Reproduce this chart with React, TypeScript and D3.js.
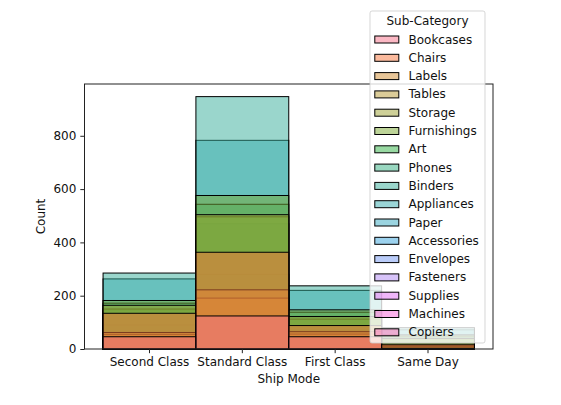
import { useEffect, useRef } from 'react'
import * as d3 from 'd3'

const shipModes = ['Second Class', 'Standard Class', 'First Class', 'Same Day']
const subCategories = [
  'Bookcases', 'Chairs', 'Labels', 'Tables', 'Storage', 'Furnishings', 'Art', 'Phones', 'Binders',
  'Appliances', 'Paper', 'Accessories', 'Envelopes', 'Fasteners', 'Supplies', 'Machines', 'Copiers',
]
// counts per sub-category (same order as subCategories), one array per ship mode
const secondClass = [46, 134, 62, 55, 164, 182, 150, 172, 285, 90, 263, 145, 48, 40, 35, 22, 12]
const standardClass = [124, 363, 222, 191, 504, 576, 496, 543, 947, 280, 783, 470, 150, 130, 110, 70, 40]
const firstClass = [46, 88, 65, 56, 122, 147, 112, 138, 237, 70, 220, 118, 40, 33, 29, 18, 10]
const sameDay = [3, 18, 12, 10, 40, 53, 38, 48, 80, 22, 72, 36, 12, 10, 9, 6, 4]
const countsByMode = [secondClass, standardClass, firstClass, sameDay]
const yTicks = [0, 200, 400, 600, 800]

// seaborn's husl palette
const M = [[3.2406, -1.5372, -0.4986], [-0.9689, 1.8758, 0.0415], [0.0557, -0.204, 1.057]]
const maxChroma = (L: number, H: number) => {
  const hr = (H * Math.PI) / 180
  const sinH = Math.sin(hr), cosH = Math.cos(hr)
  const sub1 = Math.pow(L + 16, 3) / 1560896
  const sub2 = sub1 > 0.008856 ? sub1 : L / 903.3
  let res = Infinity
  for (const [m1, m2, m3] of M) {
    const top = (0.99915 * m1 + 1.05122 * m2 + 1.1446 * m3) * sub2
    const rb = 0.8633 * m3 - 0.17266 * m2
    const lb = 0.12949 * m3 - 0.38848 * m1
    const bottom = (rb * sinH + lb * cosH) * sub2
    for (const t of [0, 1]) {
      const C = (L * (top - 1.05122 * t)) / (bottom + 0.17266 * sinH * t)
      if (C > 0 && C < res) res = C
    }
  }
  return res
}
const huslToHex = (h: number, s: number, l: number) => {
  const C = (maxChroma(l, h) / 100) * s
  const hr = (h * Math.PI) / 180
  const U = Math.cos(hr) * C, V = Math.sin(hr) * C
  const t = (l + 16) / 116
  const Y = t ** 3 > 0.008856 ? t ** 3 : (116 * t - 16) / 903.3
  const vu = U / (13 * l) + 0.19784
  const vv = V / (13 * l) + 0.46834
  const X = -(9 * Y * vu) / ((vu - 4) * vv - vu * vv)
  const Z = (9 * Y - 15 * vv * Y - vv * X) / (3 * vv)
  const rgb = M.map(r => {
    const c = r[0] * X + r[1] * Y + r[2] * Z
    const v = c <= 0.0031308 ? 12.92 * c : 1.055 * Math.pow(c, 1 / 2.4) - 0.055
    return Math.max(0, Math.min(1, v)) * 255
  })
  return d3.rgb(rgb[0], rgb[1], rgb[2]).formatHex()
}
const palette = subCategories.map((_, i) => huslToHex(((i / subCategories.length + 0.01) % 1) * 359, 0.9 * 99, 0.65 * 99))

const FONT = 'DejaVu Sans, sans-serif'

const Chart = () => {
  const ref = useRef<SVGSVGElement | null>(null)
  useEffect(() => {
    const el = ref.current
    if (!el) return
    const width = 561, height = 405
    const box = { left: 84.5, right: 493, top: 84, bottom: 349 }
    const svg = d3.select(el).attr('viewBox', `0 0 ${width} ${height}`)
    svg.append('rect').attr('width', width).attr('height', height).attr('fill', '#fff')

    const x = d3.scaleBand<string>().domain(shipModes).range([box.left, box.right]).paddingInner(0).paddingOuter(0.2)
    const maxCount = d3.max(countsByMode, (a: number[]) => d3.max(a)) as number
    const y = d3.scaleLinear().domain([0, maxCount * 1.05]).range([box.bottom, box.top])

    // layered bars, first hue on top
    const bars = svg.append('g')
    for (let k = subCategories.length - 1; k >= 0; k--) {
      bars.append('g').selectAll('rect').data(shipModes).join('rect')
        .attr('x', (d: string) => x(d) as number)
        .attr('width', x.bandwidth())
        .attr('y', (_: string, j: number) => y(countsByMode[j][k]))
        .attr('height', (_: string, j: number) => y(0) - y(countsByMode[j][k]))
        .attr('fill', palette[k]).attr('fill-opacity', 0.5)
        .attr('stroke', '#000').attr('stroke-width', 1)
    }

    const yAxis = svg.append('g').attr('transform', `translate(${box.left},0)`)
      .call(d3.axisLeft(y).tickValues(yTicks).tickSize(4.2).tickPadding(4))
    const xAxis = svg.append('g').attr('transform', `translate(0,${box.bottom})`)
      .call(d3.axisBottom(x).tickSize(4.2).tickPadding(4))
    for (const ax of [xAxis, yAxis]) {
      ax.select('.domain').remove()
      ax.selectAll('line').attr('stroke', '#222').attr('stroke-width', 1)
      ax.selectAll('text').attr('fill', '#111').style('font-family', FONT).style('font-size', '12px')
    }
    svg.append('rect').attr('x', box.left).attr('y', box.top)
      .attr('width', box.right - box.left).attr('height', box.bottom - box.top)
      .attr('fill', 'none').attr('stroke', '#222').attr('stroke-width', 1)

    svg.append('text').attr('x', (box.left + box.right) / 2).attr('y', 383)
      .attr('text-anchor', 'middle').style('font-family', FONT).style('font-size', '12px').attr('fill', '#111')
      .text('Ship Mode')
    svg.append('text').attr('transform', `translate(45,${(box.top + box.bottom) / 2}) rotate(-90)`)
      .attr('text-anchor', 'middle').style('font-family', FONT).style('font-size', '12px').attr('fill', '#111')
      .text('Count')

    // legend
    const lg = svg.append('g')
    lg.append('rect').attr('x', 370).attr('y', 11).attr('width', 115).attr('height', 332).attr('rx', 2)
      .attr('fill', '#fff').attr('fill-opacity', 0.8).attr('stroke', '#ccc').attr('stroke-opacity', 0.8)
    lg.append('text').attr('x', 427.5).attr('y', 25).attr('text-anchor', 'middle')
      .style('font-family', FONT).style('font-size', '12px').attr('fill', '#111').text('Sub-Category')
    const items = lg.selectAll('g.item').data(subCategories).join('g')
      .attr('transform', (_: string, i: number) => `translate(0,${43.5 + 18.3 * i})`)
    items.append('rect').attr('x', 374.8).attr('y', -7.5).attr('width', 24).attr('height', 7)
      .attr('fill', (_: string, i: number) => palette[i]).attr('fill-opacity', 0.5)
      .attr('stroke', '#000').attr('stroke-width', 1)
    items.append('text').attr('x', 408.5).attr('y', 0)
      .style('font-family', FONT).style('font-size', '12px').attr('fill', '#111').text((d: string) => d)

    return () => { svg.selectAll('*').remove() }
  }, [])
  return <svg ref={ref} width={561} height={405} style={{ position: 'absolute', left: 0, top: 0 }} />
}

export default function App() {
  return <Chart />
}
